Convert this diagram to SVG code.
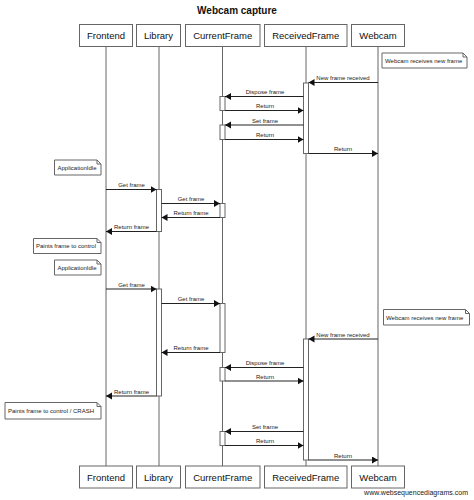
<svg xmlns="http://www.w3.org/2000/svg" width="474" height="500" viewBox="0 0 474 500">
<defs>
<marker id="ah" markerUnits="userSpaceOnUse" markerWidth="7" markerHeight="8" refX="6" refY="3.5" orient="auto">
<path d="M0,0 L6,3.5 L0,7 z" fill="#111"/>
</marker>
<style>
.box{fill:#fff;stroke:#666;stroke-width:1}
.pl{font-family:"Liberation Sans",Arial,sans-serif;font-size:9.5px;fill:#111;text-anchor:middle}
.life{stroke:#666;stroke-width:1;fill:none}
.act{fill:#fff;stroke:#666;stroke-width:1}
.msg{stroke:#222;stroke-width:1;fill:none;marker-end:url(#ah)}
.ml{font-family:"Liberation Sans",Arial,sans-serif;font-size:6px;fill:#222;text-anchor:middle}
.note{fill:#fff;stroke:#666;stroke-width:1}
.nt{font-family:"Liberation Sans",Arial,sans-serif;font-size:6px;fill:#222}
.title{font-family:"Liberation Sans",Arial,sans-serif;font-size:10px;font-weight:bold;fill:#111;text-anchor:middle}
.foot{font-family:"Liberation Sans",Arial,sans-serif;font-size:7px;fill:#222;text-anchor:end}
</style>
</defs>
<rect width="474" height="500" fill="#fff"/>
<text class="title" x="237" y="14">Webcam capture</text>

<g id="lifelines">
<line class="life" x1="106" y1="46.5" x2="106" y2="466"/>
<line class="life" x1="159" y1="46.5" x2="159" y2="466"/>
<line class="life" x1="222.5" y1="46.5" x2="222.5" y2="466"/>
<line class="life" x1="306" y1="46.5" x2="306" y2="466"/>
<line class="life" x1="378" y1="46.5" x2="378" y2="466"/>
</g>

<g id="Frontend">
<rect class="box" x="79.5" y="24.5" width="53" height="22"/>
<text class="pl" x="106" y="39">Frontend</text>
<rect class="box" x="79.5" y="466" width="53" height="22"/>
<text class="pl" x="106" y="480.5">Frontend</text>
</g>
<g id="Library">
<rect class="box" x="136.5" y="24.5" width="44" height="22"/>
<text class="pl" x="158.5" y="39">Library</text>
<rect class="box" x="136.5" y="466" width="44" height="22"/>
<text class="pl" x="158.5" y="480.5">Library</text>
</g>
<g id="CurrentFrame">
<rect class="box" x="185.5" y="24.5" width="74.5" height="22"/>
<text class="pl" x="222.7" y="39">CurrentFrame</text>
<rect class="box" x="185.5" y="466" width="74.5" height="22"/>
<text class="pl" x="222.7" y="480.5">CurrentFrame</text>
</g>
<g id="ReceivedFrame">
<rect class="box" x="264.5" y="24.5" width="82.5" height="22"/>
<text class="pl" x="305.7" y="39">ReceivedFrame</text>
<rect class="box" x="264.5" y="466" width="82.5" height="22"/>
<text class="pl" x="305.7" y="480.5">ReceivedFrame</text>
</g>
<g id="Webcam">
<rect class="box" x="351.5" y="24.5" width="53" height="22"/>
<text class="pl" x="378" y="39">Webcam</text>
<rect class="box" x="351.5" y="466" width="53" height="22"/>
<text class="pl" x="378" y="480.5">Webcam</text>
</g>

<g id="activations">
<rect class="act" x="303.5" y="83" width="5" height="70.5"/>
<rect class="act" x="303.5" y="339" width="5" height="121"/>
<rect class="act" x="220" y="96.5" width="5" height="14"/>
<rect class="act" x="220" y="125" width="5" height="14.5"/>
<rect class="act" x="220" y="203.5" width="5" height="14"/>
<rect class="act" x="220" y="303.5" width="5" height="49"/>
<rect class="act" x="220" y="367.5" width="5" height="13.5"/>
<rect class="act" x="220" y="431.5" width="5" height="14"/>
<rect class="act" x="156.5" y="189.5" width="5" height="42"/>
<rect class="act" x="156.5" y="289" width="5" height="107"/>
</g>

<g id="connectors">
<line class="msg" x1="378" y1="82.5" x2="308.5" y2="82.5"/>
<text class="ml" x="343" y="80">New frame received</text>
<line class="msg" x1="303.5" y1="96.5" x2="225" y2="96.5"/>
<text class="ml" x="265" y="94">Dispose frame</text>
<line class="msg" x1="225" y1="110.5" x2="303.5" y2="110.5"/>
<text class="ml" x="265" y="108">Return</text>
<line class="msg" x1="303.5" y1="125" x2="225" y2="125"/>
<text class="ml" x="265" y="122.5">Set frame</text>
<line class="msg" x1="225" y1="139.5" x2="303.5" y2="139.5"/>
<text class="ml" x="265" y="137">Return</text>
<line class="msg" x1="308.5" y1="153.5" x2="378" y2="153.5"/>
<text class="ml" x="343" y="151">Return</text>

<line class="msg" x1="106" y1="189.5" x2="156.5" y2="189.5"/>
<text class="ml" x="131.5" y="187">Get frame</text>
<line class="msg" x1="161.5" y1="203.5" x2="220" y2="203.5"/>
<text class="ml" x="191" y="201">Get frame</text>
<line class="msg" x1="220" y1="217.5" x2="161.5" y2="217.5"/>
<text class="ml" x="191" y="215">Return frame</text>
<line class="msg" x1="156.5" y1="231.5" x2="106" y2="231.5"/>
<text class="ml" x="131.5" y="229">Return frame</text>

<line class="msg" x1="106" y1="289" x2="156.5" y2="289"/>
<text class="ml" x="131.5" y="286.5">Get frame</text>
<line class="msg" x1="161.5" y1="303.5" x2="220" y2="303.5"/>
<text class="ml" x="191" y="301">Get frame</text>
<line class="msg" x1="378" y1="339" x2="308.5" y2="339"/>
<text class="ml" x="343" y="336.5">New frame received</text>
<line class="msg" x1="220" y1="352.5" x2="161.5" y2="352.5"/>
<text class="ml" x="191" y="350">Return frame</text>
<line class="msg" x1="303.5" y1="367.5" x2="225" y2="367.5"/>
<text class="ml" x="265" y="365">Dispose frame</text>
<line class="msg" x1="225" y1="381" x2="303.5" y2="381"/>
<text class="ml" x="265" y="378.5">Return</text>
<line class="msg" x1="156.5" y1="396" x2="106" y2="396"/>
<text class="ml" x="131.5" y="393.5">Return frame</text>
<line class="msg" x1="303.5" y1="431.5" x2="225" y2="431.5"/>
<text class="ml" x="265" y="429">Set frame</text>
<line class="msg" x1="225" y1="445.5" x2="303.5" y2="445.5"/>
<text class="ml" x="265" y="443">Return</text>
<line class="msg" x1="308.5" y1="460" x2="378" y2="460"/>
<text class="ml" x="343" y="457.5">Return</text>
</g>

<g id="note1">
<path class="note" d="M382,53 H463 L467,57 V68 H382 Z M463,53 V57 H467"/>
<text class="nt" x="385" y="62.5">Webcam receives new frame</text>
</g>
<g id="note2">
<path class="note" d="M54.5,160 H97 L101,164 V175 H54.5 Z M97,160 V164 H101"/>
<text class="nt" x="57.5" y="169.5">ApplicationIdle</text>
</g>
<g id="note3">
<path class="note" d="M33.5,238.5 H97 L101,242.5 V253.5 H33.5 Z M97,238.5 V242.5 H101"/>
<text class="nt" x="36" y="248">Paints frame to control</text>
</g>
<g id="note4">
<path class="note" d="M54.5,260 H97 L101,264 V275 H54.5 Z M97,260 V264 H101"/>
<text class="nt" x="57.5" y="269.5">ApplicationIdle</text>
</g>
<g id="note5">
<path class="note" d="M383.5,309.5 H465.5 L469.5,313.5 V325 H383.5 Z M465.5,309.5 V313.5 H469.5"/>
<text class="nt" x="386" y="319.5">Webcam receives new frame</text>
</g>
<g id="note6">
<path class="note" d="M5,402.5 H97 L101,406.5 V419 H5 Z M97,402.5 V406.5 H101"/>
<text class="nt" x="8" y="412.5">Paints frame to control / CRASH</text>
</g>

<text class="foot" x="468" y="495">www.websequencediagrams.com</text>
</svg>
